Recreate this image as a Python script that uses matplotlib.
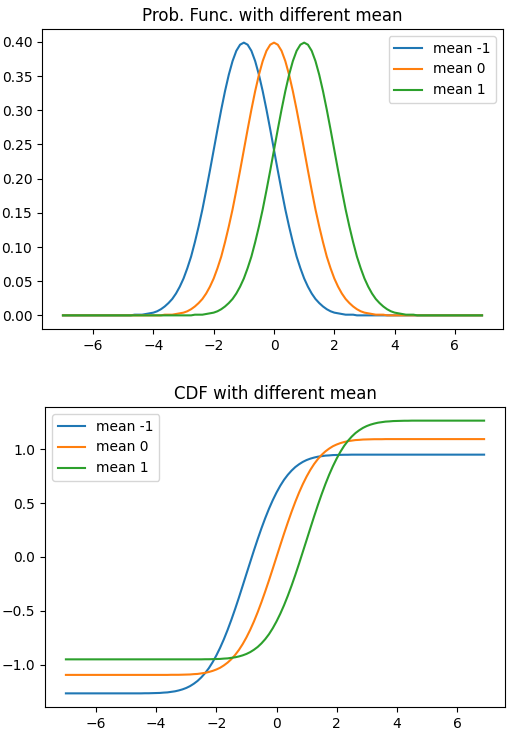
import matplotlib
matplotlib.use("Agg")
import numpy as np
import matplotlib.pyplot as plt

# ============================================================
# DONNEES
# ============================================================

# abscisses : -7, puis -5 -> 5 par pas de 0.125, puis 6.9
x_vals = [-7.0] + list(np.linspace(-5, 5, 81)) + [6.9]

labels = ["mean -1", "mean 0", "mean 1"]

# densite
pdf_m1 = [0.0,
          0, 0, 0, 0.001, 0.001, 0.001, 0.002, 0.003,
          0.004, 0.006, 0.009, 0.013, 0.018, 0.024, 0.032, 0.042,
          0.054, 0.069, 0.086, 0.107, 0.130, 0.155, 0.183, 0.212,
          0.242, 0.272, 0.301, 0.328, 0.352, 0.372, 0.387, 0.396,
          0.399,
          0.396, 0.387, 0.372, 0.352, 0.328, 0.301, 0.272,
          0.242, 0.212, 0.183, 0.155, 0.130, 0.107, 0.086, 0.069,
          0.054, 0.042, 0.032, 0.024, 0.018, 0.013, 0.009, 0.006,
          0.004, 0.003, 0.002, 0.001, 0.001, 0.001, 0, 0,
          0, 0, 0, 0, 0, 0, 0, 0, 0, 0, 0, 0, 0, 0, 0, 0, 0,
          0.0]
pdf_0 = [0.0,
         0, 0, 0, 0, 0, 0, 0, 0, 0,
         0, 0, 0.001, 0.001, 0.001, 0.002, 0.003, 0.004,
         0.006, 0.009, 0.013, 0.018, 0.024, 0.032, 0.042, 0.054,
         0.069, 0.086, 0.107, 0.130, 0.155, 0.183, 0.212, 0.242,
         0.272, 0.301, 0.328, 0.352, 0.372, 0.387, 0.396,
         0.399,
         0.396, 0.387, 0.372, 0.352, 0.328, 0.301, 0.272,
         0.242, 0.212, 0.183, 0.155, 0.130, 0.107, 0.086, 0.069,
         0.054, 0.042, 0.032, 0.024, 0.018, 0.013, 0.009, 0.006,
         0.004, 0.003, 0.002, 0.001, 0.001, 0.001, 0, 0,
         0, 0, 0, 0, 0, 0, 0, 0, 0,
         0.0]
pdf_p1 = [0.0,
          0, 0, 0, 0, 0, 0, 0, 0, 0, 0, 0, 0, 0, 0, 0, 0, 0,
          0, 0, 0.001, 0.001, 0.001, 0.002, 0.003, 0.004,
          0.006, 0.009, 0.013, 0.018, 0.024, 0.032, 0.042, 0.054,
          0.069, 0.086, 0.107, 0.130, 0.155, 0.183, 0.212, 0.242,
          0.272, 0.301, 0.328, 0.352, 0.372, 0.387, 0.396,
          0.399,
          0.396, 0.387, 0.372, 0.352, 0.328, 0.301, 0.272,
          0.242, 0.212, 0.183, 0.155, 0.130, 0.107, 0.086, 0.069,
          0.054, 0.042, 0.032, 0.024, 0.018, 0.013, 0.009, 0.006,
          0.004, 0.003, 0.002, 0.001, 0.001, 0.001, 0, 0, 0,
          0.0]

# cumul (normalise)
cdf_m1 = [-1.263,
          -1.263, -1.263, -1.263, -1.263, -1.263, -1.262, -1.262, -1.261,
          -1.260, -1.259, -1.256, -1.254, -1.249, -1.244, -1.236, -1.226,
          -1.213, -1.196, -1.174, -1.148, -1.115, -1.076, -1.030, -0.975,
          -0.912, -0.841, -0.762, -0.675, -0.581, -0.481, -0.376, -0.267,
          -0.157,
          -0.048, 0.061, 0.166, 0.266, 0.360, 0.447, 0.526,
          0.597, 0.660, 0.715, 0.761, 0.800, 0.833, 0.859, 0.881,
          0.898, 0.911, 0.921, 0.929, 0.934, 0.939, 0.941, 0.944,
          0.945, 0.946, 0.947, 0.947, 0.948,
          0.948, 0.948, 0.948, 0.948, 0.948, 0.948, 0.948, 0.948, 0.948, 0.948,
          0.948, 0.948, 0.948, 0.948, 0.948, 0.948, 0.948, 0.948, 0.948, 0.948,
          0.948]
cdf_0 = [-1.092,
         -1.092, -1.092, -1.092, -1.092, -1.092, -1.092, -1.092, -1.092, -1.092, -1.092, -1.092,
         -1.092, -1.091, -1.091, -1.091, -1.090, -1.089, -1.088, -1.085, -1.083,
         -1.078, -1.073, -1.065, -1.055, -1.042, -1.026, -1.004, -0.978, -0.946, -0.907,
         -0.861, -0.807, -0.745, -0.675, -0.597, -0.511, -0.418, -0.319, -0.216, -0.109,
         0.000,
         0.109, 0.216, 0.319, 0.418, 0.511, 0.597, 0.675, 0.745, 0.807, 0.861,
         0.907, 0.946, 0.978, 1.004, 1.026, 1.042, 1.055, 1.065, 1.073, 1.078,
         1.083, 1.085, 1.088, 1.089, 1.090, 1.091, 1.091, 1.091, 1.092,
         1.092, 1.092, 1.092, 1.092, 1.092, 1.092, 1.092, 1.092, 1.092, 1.092, 1.092,
         1.092]
cdf_p1 = [-0.948,
          -0.948, -0.948, -0.948, -0.948, -0.948, -0.948, -0.948, -0.948, -0.948, -0.948,
          -0.948, -0.948, -0.948, -0.948, -0.948, -0.948, -0.948, -0.948, -0.948, -0.948,
          -0.948, -0.947, -0.947, -0.946, -0.945, -0.944, -0.941, -0.939, -0.934, -0.929,
          -0.921, -0.911, -0.898, -0.881, -0.859, -0.833, -0.800, -0.761, -0.715, -0.660,
          -0.597, -0.526, -0.447, -0.360, -0.266, -0.166, -0.061,
          0.048, 0.157, 0.267, 0.376, 0.481, 0.581, 0.675, 0.762, 0.841, 0.912,
          0.975, 1.030, 1.076, 1.115, 1.148, 1.174, 1.196, 1.213, 1.226, 1.236,
          1.244, 1.249, 1.254, 1.256, 1.259, 1.260, 1.261, 1.262, 1.262,
          1.263, 1.263, 1.263, 1.263, 1.263,
          1.263]

for serie in [pdf_m1, pdf_0, pdf_p1, cdf_m1, cdf_0, cdf_p1]:
    assert len(serie) == len(x_vals), len(serie)

# ============================================================
# FIGURE
# ============================================================

W, H = 515, 745
DPI = 100
fig = plt.figure(figsize=(W / DPI, H / DPI), dpi=DPI)


def boite(x0, y0, x1, y1):
    # coordonnees pixels -> fraction de figure
    return [x0 / W, 1 - y1 / H, (x1 - x0) / W, (y1 - y0) / H]


ax1 = fig.add_axes(boite(42, 29, 503, 329))
for y, lab in zip([pdf_m1, pdf_0, pdf_p1], labels):
    ax1.plot(x_vals, y, label=lab)
ax1.set_title("Prob. Func. with different mean")
ax1.set_yticks([0.0, 0.05, 0.10, 0.15, 0.20, 0.25, 0.30, 0.35, 0.40])
ax1.set_yticklabels(["0.00", "0.05", "0.10", "0.15", "0.20", "0.25", "0.30", "0.35", "0.40"])
ax1.set_xticks([-6, -4, -2, 0, 2, 4, 6])
ax1.legend(loc="upper right")

ax2 = fig.add_axes(boite(45, 407, 505, 707))
for y, lab in zip([cdf_m1, cdf_0, cdf_p1], labels):
    ax2.plot(x_vals, y, label=lab)
ax2.set_title("CDF with different mean")
ax2.set_yticks([-1.0, -0.5, 0.0, 0.5, 1.0])
ax2.set_xticks([-6, -4, -2, 0, 2, 4, 6])
ax2.legend(loc="upper left")

fig.savefig("out.png", dpi=DPI)
